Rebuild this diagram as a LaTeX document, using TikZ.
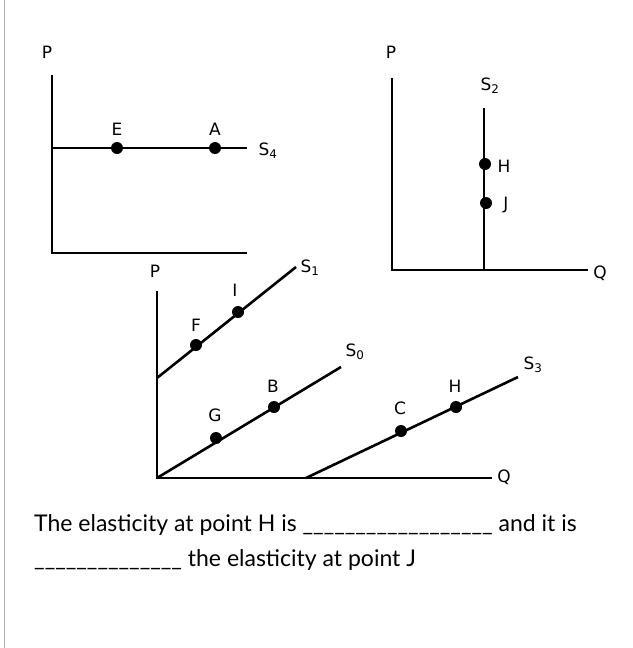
\documentclass[tikz,border=0pt]{standalone}
\usepackage{fontspec}
\setmainfont{Lato}
\newfontfamily\lab{DejaVu Sans}
\begin{document}
\begin{tikzpicture}[x=1pt,y=-1pt,
  ax/.style={line width=2.6pt},
  dot/.style={circle,fill=black,inner sep=0pt,minimum size=12pt},
  lbl/.style={font=\lab\fontsize{17}{19}\selectfont,inner sep=0pt}]
\useasboundingbox (0,0) rectangle (632,648);
\draw[gray!60,line width=1pt] (4,0) -- (4,648);
% top-left
\node[lbl] (p1) at (47,52) {P};
\coordinate (o1) at (52,253);
\coordinate (t1) at (52,75);
\coordinate (r1) at (247,253);
\draw[ax] (t1) -- (o1) -- (r1);
\coordinate (s4a) at (52,148); \coordinate (s4b) at (247,148);
\draw[ax] (s4a) -- (s4b);
\node[dot] (E) at (117,148) {}; \node[dot] (A) at (215,148) {};
\node[lbl] at (117,129) {E}; \node[lbl] at (215,129) {A};
\node[lbl] at (268,151) {S\textsubscript{4}};
% top-right
\node[lbl] (p2) at (391,52) {P};
\coordinate (o2) at (392,270); \coordinate (t2) at (392,78); \coordinate (r2) at (588,270);
\draw[ax] (t2) -- (o2) -- (r2);
\node[lbl] at (600,273) {Q};
\coordinate (s2a) at (484,108); \coordinate (s2b) at (484,270);
\draw[ax] (s2a) -- (s2b);
\node[lbl] at (490,86) {S\textsubscript{2}};
\node[dot] (H2) at (485,164) {}; \node[lbl] at (504,166) {H};
\node[dot] (J) at (486,203) {}; \node[lbl] at (506,205) {J};
% bottom
\node[lbl] at (155,271) {P};
\coordinate (o3) at (157,478); \coordinate (t3) at (157,291); \coordinate (r3) at (492,478);
\draw[ax] (t3) -- (o3) -- (r3);
\node[lbl] at (504,477) {Q};
\coordinate (s1a) at (157,378); \coordinate (s1b) at (296,267);
\draw[ax] (s1a) -- (s1b);
\node[lbl] at (310,268) {S\textsubscript{1}};
\node[dot] (F) at (196,345) {}; \node[lbl] at (196,325) {F};
\node[dot] (I) at (238,312) {}; \node[lbl] at (235,290) {I};
\coordinate (s0b) at (341,367);
\draw[ax] (o3) -- (s0b);
\node[lbl] at (355,352) {S\textsubscript{0}};
\node[dot] (B) at (274,407) {}; \node[lbl] at (273,386) {B};
\node[dot] (G) at (216,438) {}; \node[lbl] at (215,415) {G};
\coordinate (s3a) at (306,478); \coordinate (s3b) at (518,377);
\draw[ax] (s3a) -- (s3b);
\node[lbl] at (533,365) {S\textsubscript{3}};
\node[dot] (C) at (401,431) {}; \node[lbl] at (400,408) {C};
\node[dot] (H3) at (456,407) {}; \node[lbl] at (455,386) {H};
% text
\node[anchor=west,inner sep=0pt,font=\fontsize{23}{27}\selectfont] (t1x) at (34,525) {The elasticity at point H is \_\_\_\_\_\_\_\_\_\_\_\_\_\_\_\_\_\_ and it is};
\node[anchor=west,inner sep=0pt,font=\fontsize{23}{27}\selectfont] (t2x) at (34,560) {\_\_\_\_\_\_\_\_\_\_\_\_\_\_ the elasticity at point J};
\end{tikzpicture}
\end{document}
